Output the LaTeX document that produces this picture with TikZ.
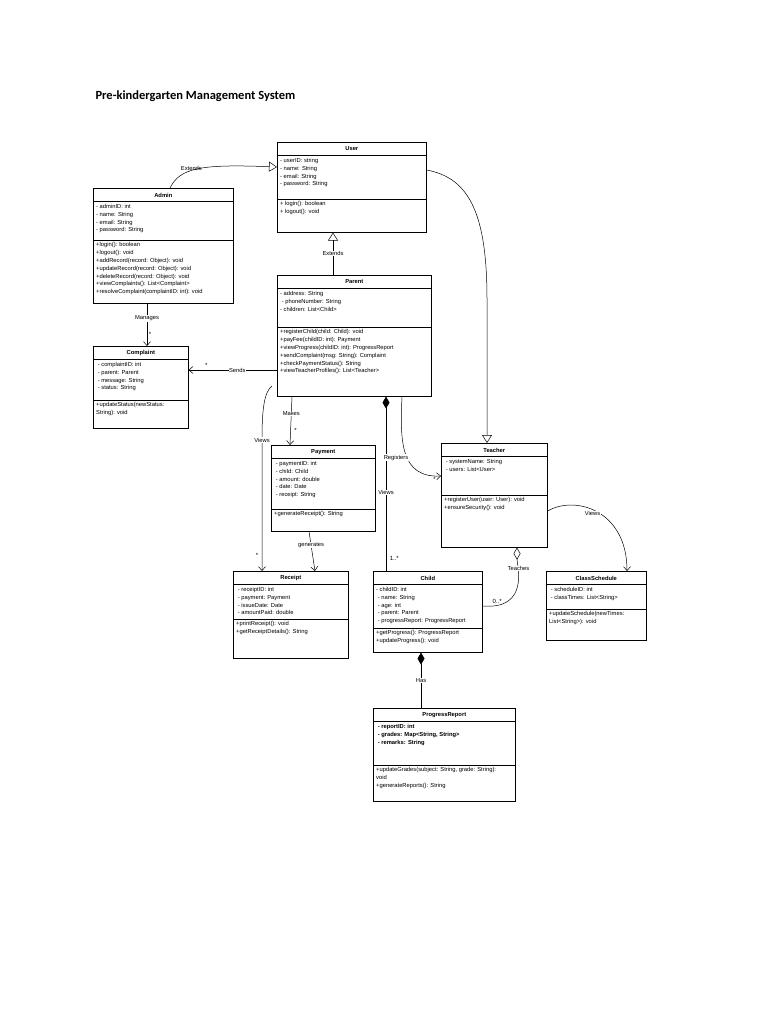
\documentclass[tikz,border=0pt]{standalone}
\usepackage{fontspec}
\setmainfont{Liberation Sans}
\newfontfamily\titlefont{Carlito}
\usetikzlibrary{arrows.meta,calc}
\newcommand\umlbox[9]{%
 \node[box, minimum width=#4pt, minimum height=#5pt, anchor=north west] (#1) at (#2,#3) {};
 \node[ttl] (#1-t) at ($(#1.north)+(0,7)$) {#7};
 \draw[thin] ([yshift=-13.5pt]#1.north west) -- ([yshift=-13.5pt]#1.north east);
 \draw[thin] ([yshift=-#6pt]#1.north west) -- ([yshift=-#6pt]#1.north east);
 \node[txt] (#1-a) at ([shift={(2pt,-15pt)}]#1.north west) {#8};
 \node[txt] (#1-m) at ([shift={(2pt,-#6pt-1.5pt)}]#1.north west) {#9};
}
\begin{document}
\begin{tikzpicture}[x=1pt,y=-1pt,
 box/.style={draw, line width=0.6pt, inner sep=0pt},
 ttl/.style={font=\fontsize{5.8}{7}\selectfont\bfseries, inner sep=0pt},
 txt/.style={font=\fontsize{5.8}{7.8}\selectfont, align=left, anchor=north west, inner sep=1pt},
 lbl/.style={font=\fontsize{5.8}{7}\selectfont, fill=white, inner sep=0.5pt},
 mult/.style={font=\fontsize{6}{7}\selectfont, inner sep=0.5pt},
 con/.style={line width=0.5pt},
 nav/.style={con, -{Straight Barb[length=4pt,width=7pt]}},
 gen/.style={con, -{Triangle[open,length=8pt,width=10pt]}},
 comp/.style={con, {Diamond[length=12pt,width=7pt]}-},
 aggr/.style={con, {Diamond[open,length=12pt,width=7pt]}-}]
\useasboundingbox[fill=white] (0,0) rectangle (768,1024);
\node[anchor=west, font=\titlefont\fontsize{12.5}{14}\selectfont\bfseries] (title) at (92,96) {Pre-kindergarten Management System};

\umlbox{user}{277}{142}{149}{90}{57}{User}{- userID: string\\- name: String\\- email: String\\- password: String}{+ login(): boolean\\+ logout(): void}
\umlbox{admin}{93}{188}{140}{115}{52}{Admin}{- adminID: int\\- name: String\\- email: String\\- password: String}{+login(): boolean\\+logout(): void\\+addRecord(record: Object): void\\+updateRecord(record: Object): void\\+deleteRecord(record: Object): void\\+viewComplaints(): List<Complaint>\\+resolveComplaint(complaintID: int): void}
\umlbox{parent}{277}{275}{154}{121}{52}{Parent}{- address: String\\\ - phoneNumber: String\\- children: List<Child>}{+registerChild(child: Child): void\\+payFee(childID: int): Payment\\+viewProgress(childID: int): ProgressReport\\+sendComplaint(msg: String): Complaint\\+checkPaymentStatus(): String\\+viewTeacherProfiles(): List<Teacher>}
\umlbox{complaint}{93}{346}{95}{82}{54}{Complaint}{\ - complaintID: int\\\ - parent: Parent\\\ - message: String\\\ - status: String}{+updateStatus(newStatus:\\String): void}
\umlbox{payment}{271}{445}{104}{86}{64}{Payment}{\ - paymentID: int\\\ - child: Child\\\ - amount: double\\\ - date: Date\\\ - receipt: String}{+generateReceipt(): String}
\umlbox{teacher}{441}{443}{106}{104}{52}{Teacher}{\ - systemName: String\\\ - users: List<User>}{+registerUser(user: User): void\\+ensureSecurity(): void}
\umlbox{receipt}{233}{571}{115}{87}{48}{Receipt}{\ - receiptID: int\\\ - payment: Payment\\\ - issueDate: Date\\\ - amountPaid: double}{+printReceipt(): void\\+getReceiptDetails(): String}
\umlbox{child}{373}{571}{109}{81}{57}{Child}{- childID: int\\\ - name: String\\\ - age: int\\\ - parent: Parent\\\ - progressReport: ProgressReport}{+getProgress(): ProgressReport\\+updateProgress(): void}
\umlbox{schedule}{546}{571}{100}{69}{38}{ClassSchedule}{\ - scheduleID: int\\\ - classTimes: List<String>}{+updateSchedule(newTimes:\\List<String>): void}
\umlbox{report}{373}{708}{142}{93}{57}{ProgressReport}{\bfseries\ - reportID: int\\\bfseries\ - grades: Map<String, String>\\\bfseries\ - remarks: String}{+updateGrades(subject: String, grade: String):\\void\\+generateReports(): String}

% Admin extends User
\draw[gen] ($(admin.north west)+(77,0)$) .. controls (180,168) and (200,164) .. node[pos=0.42,lbl,fill=none,above=-1pt]{Extends} ($(user.north west)+(0,25)$);
% Parent extends User
\draw[gen] ($(parent.north west)+(56,0)$) -- node[lbl]{Extends} ($(user.south west)+(56,0)$);
% User to Teacher
\draw[gen] ($(user.north east)+(0,28)$) .. controls (470,178) and (487,215) .. (487,300) -- ($(teacher.north west)+(46,0)$);
% Admin manages Complaint
\draw[nav] ($(admin.south west)+(54,0)$) -- node[lbl,pos=0.35]{Manages} node[mult,pos=0.72,right=1pt]{*} ($(complaint.north west)+(54,0)$);
% Parent sends Complaint
\draw[nav] ($(parent.north west)+(0,95)$) -- node[lbl,pos=0.45]{Sends} node[mult,pos=0.8,above=2pt]{*} ($(complaint.north east)+(0,24)$);
% Parent makes Payment
\draw[nav] ($(parent.south west)+(15,0)$) -- node[lbl,pos=0.35]{Makes} node[mult,pos=0.7,right=3pt]{*} ($(payment.north west)+(19,0)$);
% Parent views Receipt
\draw[nav] ($(parent.north west)+(-5,111)$) .. controls (264,392) and (262,410) .. (262,440) -- node[lbl,pos=0.0]{Views} node[mult,pos=0.88,left=3pt]{*} ($(receipt.north west)+(29,0)$);
% Parent-Child composition
\draw[comp] ($(parent.south west)+(109,0)$) -- node[lbl,pos=0.55]{Views} node[mult,pos=0.93,right=3pt]{1..*} ($(child.north west)+(13,0)$);
% Parent registers Teacher
\draw[nav] ($(parent.south west)+(125,0)$) .. controls (400,440) and (400,478) .. node[lbl,pos=0.55,left=-2pt]{Registers} node[mult,pos=0.97,below left=1pt]{*} ($(teacher.north west)+(0,33)$);
% Payment generates Receipt
\draw[nav] ($(payment.south west)+(38,0)$) -- node[lbl,pos=0.35]{generates} ($(receipt.north west)+(82,0)$);
% Teacher views ClassSchedule
\draw[nav] ($(teacher.north east)+(0,68)$) .. controls (575,495) and (627,510) .. node[lbl,pos=0.45,below=1pt]{Views} ($(schedule.north west)+(81,0)$);
% Teacher teaches Child
\draw[aggr] ($(teacher.south west)+(76,0)$) .. controls (517,565) and (530,610) .. node[lbl,pos=0.3]{Teaches} node[mult,pos=0.88,above=1pt]{0..*} ($(child.north east)+(0,35)$);
% Child has ProgressReport
\draw[comp] ($(child.south west)+(48,0)$) -- node[lbl,pos=0.5]{Has} ($(report.north west)+(48,0)$);
\end{tikzpicture}
\end{document}
